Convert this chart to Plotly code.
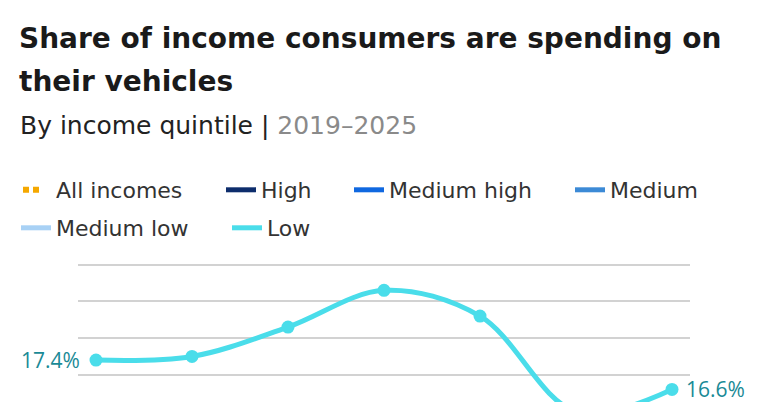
import plotly.graph_objects as go

years = [2019, 2020, 2021, 2022, 2023, 2024, 2025]
# Low-income quintile: share of income spent on vehicles (%)
low = [17.4, 17.5, 18.3, 19.3, 18.6, 16.0, 16.6]
# Other series lie below the visible part of the picture and cannot be read
all_incomes = [None]
high = [None]
medium_high = [None]
medium = [None]
medium_low = [None]

series_names = ["All incomes", "High", "Medium high", "Medium", "Medium low", "Low"]
colors = {
    "All incomes": "#F5A800",
    "High": "#0D2D6C",
    "Medium high": "#1068E0",
    "Medium": "#3C8AD6",
    "Medium low": "#A8D1F5",
    "Low": "#4ADDEA",
}

W, H = 768, 675
L, R, T = 78, 78, 261
PH = 334
B = H - T - PH
PW = W - L - R
YMIN, YMAX = 11, 20.1


def px_x(px):
    return (px - L) / PW


def px_y(py):
    return (T + PH - py) / PH


FONT = "DejaVu Sans"
LABEL_FONT = "Open Sans"
fig = go.Figure()

# legend entry positions: (text left px, row centre px, legend id)
legend_pos = {
    "All incomes": (57, 190, "legend"),
    "High": (262, 190, "legend2"),
    "Medium high": (390, 190, "legend3"),
    "Medium": (611, 190, "legend4"),
    "Medium low": (57, 228, "legend5"),
    "Low": (268, 228, "legend6"),
}

empty = {
    "All incomes": all_incomes,
    "High": high,
    "Medium high": medium_high,
    "Medium": medium,
    "Medium low": medium_low,
    "Low": [None],
}

for name in series_names:
    vals = empty[name]
    fig.add_trace(go.Scatter(
        x=[None] * len(vals), y=vals, name=name, mode="lines",
        line=dict(color=colors[name], width=5 if name != "All incomes" else 6,
                  dash="0px,2px,6px,4px,6px,40px" if name == "All incomes" else "solid"),
        legend=legend_pos[name][2], showlegend=True,
    ))

fig.add_trace(go.Scatter(
    x=years, y=low, name="Low", mode="lines+markers",
    line=dict(color=colors["Low"], width=5, shape="spline", smoothing=1),
    marker=dict(size=13, color=colors["Low"]),
    showlegend=False, cliponaxis=False,
))

legend_layout = {}
for name, (tx, sy, key) in legend_pos.items():
    legend_layout[key] = dict(
        x=px_x(tx - 41), y=px_y(sy), xanchor="left", yanchor="middle",
        orientation="h", bgcolor="rgba(0,0,0,0)",
        font=dict(family=FONT, size=22, color="#333333"),
        itemclick=False, itemdoubleclick=False,
    )

annotations = [
    dict(text="<b>Share of income consumers are spending on</b>", x=px_x(17), y=px_y(38.5),
         xanchor="left", yanchor="middle", showarrow=False,
         font=dict(family=FONT, size=28, color="#1A1A1A")),
    dict(text="<b>their vehicles</b>", x=px_x(17), y=px_y(81),
         xanchor="left", yanchor="middle", showarrow=False,
         font=dict(family=FONT, size=28, color="#1A1A1A")),
    dict(text="By income quintile | <span style='color:#8A8A8A'>2019–2025</span>",
         x=px_x(18), y=px_y(125.5), xanchor="left", yanchor="middle", showarrow=False,
         font=dict(family=FONT, size=25, color="#222222")),
    dict(text=f"{low[0]:.1f}%", x=years[0], y=low[0], xref="x", yref="y",
         xanchor="right", yanchor="middle", xshift=-14, showarrow=False,
         font=dict(family=LABEL_FONT, size=21, color="#1A8A96")),
    dict(text=f"{low[-1]:.1f}%", x=years[-1], y=low[-1], xref="x", yref="y",
         xanchor="left", yanchor="middle", xshift=12, showarrow=False,
         font=dict(family=LABEL_FONT, size=21, color="#1A8A96")),
]
for a in annotations[:3]:
    a["xref"] = "paper"
    a["yref"] = "paper"

fig.update_layout(
    width=W, height=H,
    margin=dict(l=L, r=R, t=T, b=B),
    paper_bgcolor="white", plot_bgcolor="white",
    font=dict(family=FONT, color="#333333"),
    showlegend=True,
    annotations=annotations,
    **legend_layout,
    xaxis=dict(range=[2018.8125, 2025.1875], showgrid=False, zeroline=False,
               tickvals=years, showline=False, showticklabels=False),
    yaxis=dict(range=[YMIN, YMAX], dtick=1, tick0=0, showgrid=True,
               gridcolor="#D2D2D2", gridwidth=1.5, zeroline=False,
               showticklabels=False, showline=False),
)

fig.write_html("out.html", config={"displayModeBar": False})
